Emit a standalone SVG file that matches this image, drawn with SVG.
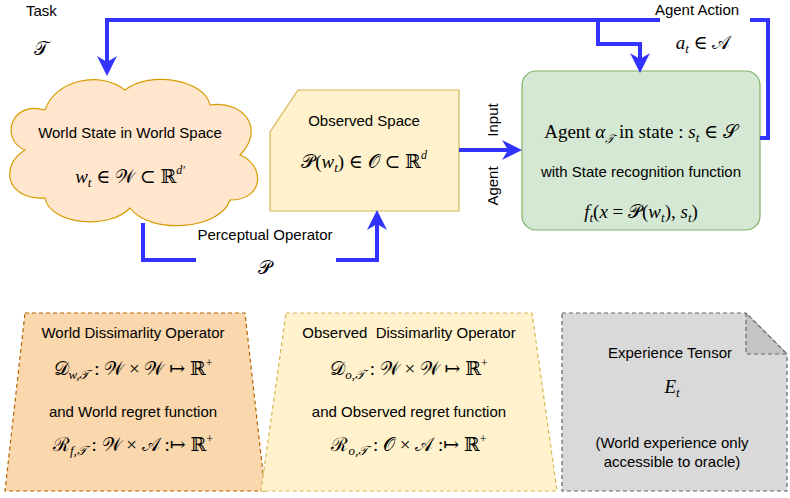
<svg xmlns="http://www.w3.org/2000/svg" width="790" height="498" viewBox="0 0 790 498">
<style>
.t{font-family:"Liberation Sans",Arial,sans-serif;font-size:15px;fill:#000}
.m{font-family:"Liberation Serif","DejaVu Serif",serif;font-size:19px;fill:#000}
.i{font-style:italic}
.c{stroke:#3333ff;stroke-width:4;fill:none}
</style>
<defs>
<marker id="ah" viewBox="0 0 10 10" refX="8" refY="5" markerWidth="5" markerHeight="5" orient="auto"><path d="M0,0L10,5L0,10L3,5Z" fill="#3333ff"/></marker>
</defs>
<rect width="790" height="498" fill="#fff"/>
<g id="task"><text class="t" x="26" y="16">Task</text><text class="m" x="34" y="55" font-size="21">𝒯</text></g>
<g id="world">
<path d="M45,110 C10,100 0,140 25,150 C0,165 5,200 45,198 C50,225 110,230 130,208 C150,235 220,230 230,200 C265,200 265,165 240,155 C265,130 245,100 210,105 C205,80 150,70 125,90 C100,70 55,80 45,110Z" fill="#ffe6cc" stroke="#d79b00" stroke-width="1.2"/>
<text class="t" x="130" y="138" text-anchor="middle" font-size="16">World State in World Space</text>
<text class="m" x="130" y="183" text-anchor="middle"><tspan class="i">w</tspan><tspan class="i" font-size="13" dy="4">t</tspan><tspan dy="-4"> ∈ 𝒲 ⊂ ℝ</tspan><tspan class="i" font-size="12" dy="-9">d′</tspan></text>
</g>
<g id="observed">
<path d="M298,90 H459 V211 H270 V132 Z" fill="#fff2cc" stroke="#d6b656" stroke-width="1.2"/>
<text class="t" x="364" y="126" text-anchor="middle" font-size="16">Observed Space</text>
<text class="m" x="364" y="168" text-anchor="middle">𝒫(<tspan class="i">w</tspan><tspan class="i" font-size="13" dy="4">t</tspan><tspan dy="-4">) ∈ 𝒪 ⊂ ℝ</tspan><tspan class="i" font-size="12" dy="-9">d</tspan></text>
</g>
<g id="agent">
<rect x="522" y="71" width="238" height="159" rx="14" fill="#d5e8d4" stroke="#82b366" stroke-width="1.2"/>
<text class="m" x="641" y="138" text-anchor="middle" font-size="20">Agent <tspan class="i">α</tspan><tspan class="i" font-size="12" dy="5">𝒯</tspan><tspan dy="-5"> in state : </tspan><tspan class="i">s</tspan><tspan font-size="13" class="i" dy="4">t</tspan><tspan dy="-4"> ∈ 𝒮</tspan></text>
<text class="t" x="641" y="177" text-anchor="middle" font-size="16">with State recognition function</text>
<text class="m" x="641" y="218" text-anchor="middle"><tspan class="i">f</tspan><tspan class="i" font-size="13" dy="4">t</tspan><tspan dy="-4">(</tspan><tspan class="i">x</tspan> = 𝒫(<tspan class="i">w</tspan><tspan class="i" font-size="13" dy="4">t</tspan><tspan dy="-4">), </tspan><tspan class="i">s</tspan><tspan class="i" font-size="13" dy="4">t</tspan><tspan dy="-4">)</tspan></text>
</g>
<g id="connectors">
<path class="c" d="M660,20 H107 V72" marker-end="url(#ah)"/>
<path class="c" d="M750,20 H768 V138 H760"/>
<path class="c" d="M598,20 V44 H640 V69" marker-end="url(#ah)"/>
<path class="c" d="M459,150 H518" marker-end="url(#ah)"/>
<path class="c" d="M143,223 V260 H196"/>
<path class="c" d="M336,260 H377 V214" marker-end="url(#ah)"/>
</g>
<g id="labels">
<text class="t" x="697" y="15" text-anchor="middle">Agent Action</text>
<text class="m" x="703" y="49" text-anchor="middle"><tspan class="i">a</tspan><tspan class="i" font-size="13" dy="4">t</tspan><tspan dy="-4"> ∈ 𝒜</tspan></text>
<text class="t" transform="translate(498,120) rotate(-90)" text-anchor="middle">Input</text>
<text class="t" transform="translate(498,186) rotate(-90)" text-anchor="middle">Agent</text>
<text class="t" x="265" y="240" text-anchor="middle">Perceptual Operator</text>
<text class="m" x="265" y="274" text-anchor="middle" font-size="17">𝒫</text>
</g>
<g id="world-dissim">
<path d="M25,313 H245 L265,491 H5 Z" fill="#fad7ac" stroke="#b46504" stroke-width="1.2" stroke-dasharray="4,3"/>
<text class="t" x="133" y="338" text-anchor="middle">World Dissimarlity Operator</text>
<text class="m" x="133" y="375" text-anchor="middle">𝒟<tspan class="i" font-size="13" dy="4">w,𝒯</tspan><tspan dy="-4"> : 𝒲 × 𝒲 ↦ ℝ</tspan><tspan font-size="12" dy="-8">+</tspan></text>
<text class="t" x="133" y="417" text-anchor="middle">and World regret function</text>
<text class="m" x="133" y="451" text-anchor="middle">ℛ<tspan class="i" font-size="13" dy="4">f,𝒯</tspan><tspan dy="-4"> : 𝒲 × 𝒜 :↦ ℝ</tspan><tspan font-size="12" dy="-8">+</tspan></text>
</g>
<g id="obs-dissim">
<path d="M286,313 H532 L557,491 H261 Z" fill="#fff2cc" stroke="#d6b656" stroke-width="1.2" stroke-dasharray="4,3"/>
<text class="t" x="409" y="338" text-anchor="middle" style="white-space:pre">Observed  Dissimarlity Operator</text>
<text class="m" x="409" y="375" text-anchor="middle">𝒟<tspan class="i" font-size="13" dy="4">o,𝒯</tspan><tspan dy="-4"> : 𝒲 × 𝒲 ↦ ℝ</tspan><tspan font-size="12" dy="-8">+</tspan></text>
<text class="t" x="409" y="417" text-anchor="middle">and Observed regret function</text>
<text class="m" x="409" y="451" text-anchor="middle">ℛ<tspan class="i" font-size="13" dy="4">o,𝒯</tspan><tspan dy="-4"> : 𝒪 × 𝒜 :↦ ℝ</tspan><tspan font-size="12" dy="-8">+</tspan></text>
</g>
<g id="experience">
<path d="M562,313 H746 L787,354 V491 H562 Z" fill="#d9d9d9" stroke="#666" stroke-width="1.2" stroke-dasharray="4,3"/>
<path d="M746,313 V354 H787 Z" fill="#c4c4c4" stroke="#666" stroke-width="1.2" stroke-dasharray="4,3"/>
<text class="t" x="670" y="358" text-anchor="middle" fill="#333">Experience Tensor</text>
<text class="m" x="672" y="393" text-anchor="middle"><tspan class="i">E</tspan><tspan class="i" font-size="13" dy="4">t</tspan></text>
<text class="t" x="672" y="448" text-anchor="middle">(World experience only</text>
<text class="t" x="672" y="467" text-anchor="middle">accessible to oracle)</text>
</g>
</svg>
